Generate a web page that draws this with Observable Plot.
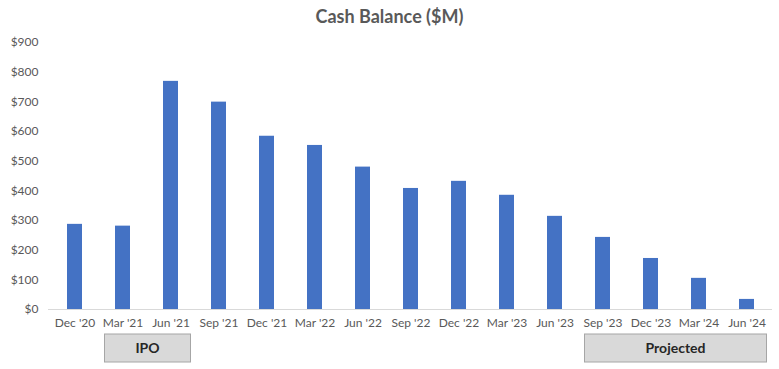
<!DOCTYPE html>
<html>
<head>
<meta charset="utf-8">
<script src="https://cdn.jsdelivr.net/npm/d3@7"></script>
<script src="https://cdn.jsdelivr.net/npm/@observablehq/plot@0.6"></script>
<style>
  html, body { margin: 0; padding: 0; background: #fff; }
  #wrap { width: 779px; font-family: Lato, "Open Sans", sans-serif; }
  #title { height: 32px; line-height: 32px; text-align: center; font-weight: bold; font-size: 18px; color: #595959; }
</style>
</head>
<body>
<div id="wrap">
  <div id="title">Cash Balance ($M)</div>
  <div id="chart"></div>
</div>
<script>
const quarters = ["Dec '20","Mar '21","Jun '21","Sep '21","Dec '21","Mar '22","Jun '22","Sep '22","Dec '22","Mar '23","Jun '23","Sep '23","Dec '23","Mar '24","Jun '24"];
const cash = [287, 281, 769, 699, 584, 553, 480, 408, 432, 385, 314, 243, 172, 105, 34];
const yTicks = [0, 100, 200, 300, 400, 500, 600, 700, 800, 900];
const annotations = [
  {label: "IPO", from: "Mar '21", to: "Jun '21"},
  {label: "Projected", from: "Sep '23", to: "Jun '24"}
];

const data = quarters.map((q, i) => ({quarter: q, value: cash[i]}));

const plot = Plot.plot({
  width: 779,
  height: 337,
  marginTop: 10,
  marginBottom: 60,
  marginLeft: 48,
  marginRight: 7,
  style: {fontFamily: "Lato, 'Open Sans', sans-serif", fontSize: "12px", color: "#595959", overflow: "visible"},
  x: {domain: quarters, paddingInner: 0.69, paddingOuter: 0.345, label: null},
  y: {domain: [0, 900], label: null},
  marks: [
    Plot.barY(data, {x: "quarter", y: "value", fill: "#4472c4"}),
    Plot.ruleY([0], {stroke: "#d9d9d9"}),
    Plot.axisY(yTicks, {tickSize: 0, tickPadding: 10, tickFormat: d => "$" + d, fill: "#595959", fontSize: 12}),
    Plot.axisX({tickSize: 0, tickPadding: 9, fill: "#595959", fontSize: 12})
  ]
});
document.getElementById("chart").appendChild(plot);

const xs = plot.scale("x");
const ys = plot.scale("y");
const step = xs.step, bw = xs.bandwidth;
const svg = d3.select(plot);
const base = ys.apply(0);
annotations.forEach(a => {
  const x1 = xs.apply(a.from) - (step - bw) / 2 + 6;
  const x2 = xs.apply(a.to) + bw + (step - bw) / 2 - 4;
  const y1 = base + 25, y2 = base + 53;
  svg.append("rect").attr("x", x1).attr("y", y1).attr("width", x2 - x1).attr("height", y2 - y1)
    .attr("fill", "#d9d9d9").attr("stroke", "#a6a6a6").attr("stroke-width", 1);
  svg.append("text").attr("x", (x1 + x2) / 2).attr("y", (y1 + y2) / 2).attr("dy", "0.35em")
    .attr("text-anchor", "middle").attr("font-weight", "bold").attr("font-size", 14)
    .attr("fill", "#262626").text(a.label);
});
</script>
</body>
</html>
